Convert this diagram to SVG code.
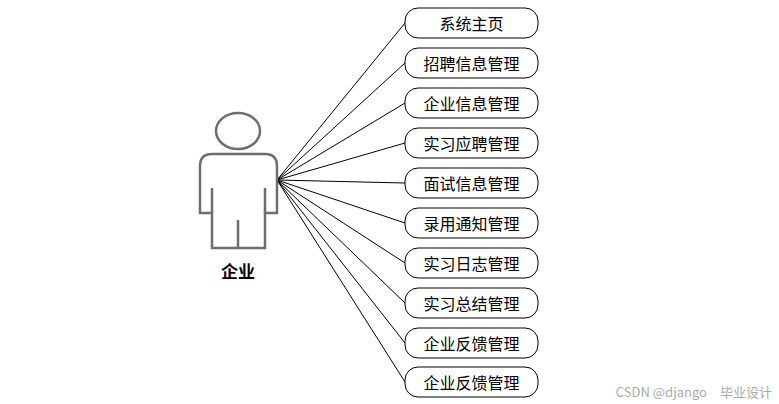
<svg xmlns="http://www.w3.org/2000/svg" width="779" height="404" viewBox="0 0 779 404">
<style>
.b{fill:#fff;stroke:#000;stroke-width:1}
.t{font-family:"Noto Sans CJK SC","Liberation Serif",serif;font-size:16px;text-anchor:middle;dominant-baseline:central;fill:#000}
.a{fill:#fff;stroke:#6e6e6e;stroke-width:2.5}
.c line{stroke:#000;stroke-width:1}
</style>
<rect width="779" height="404" fill="#fff"/>
<g class="c" id="connectors">
<line x1="277" y1="180" x2="405" y2="23"/><line x1="277" y1="180" x2="405" y2="63"/><line x1="277" y1="180" x2="405" y2="103"/><line x1="277" y1="180" x2="405" y2="143"/><line x1="277" y1="180" x2="405" y2="183"/><line x1="277" y1="180" x2="405" y2="223"/><line x1="277" y1="180" x2="405" y2="263"/><line x1="277" y1="180" x2="405" y2="303"/><line x1="277" y1="180" x2="405" y2="343"/><line x1="277" y1="180" x2="405" y2="382"/>
</g>
<g id="actor">
<ellipse class="a" cx="238" cy="131" rx="22" ry="18"/>
<path class="a" d="M200,166 Q200,154 212,154 L265,154 Q277,154 277,166 L277,213 L265,213 L265,248 L212,248 L212,213 L200,213 Z"/>
<path class="a" d="M212,188 V213 M265,188 V213 M238,220 V248" fill="none"/>
<text x="238" y="270" class="t" style="font-weight:bold;font-size:17px">企业</text>
</g>
<g id="n1"><rect class="b" x="405" y="8" width="133" height="30" rx="13"/><text class="t" x="471.5" y="23">系统主页</text></g>
<g id="n2"><rect class="b" x="405" y="48" width="133" height="30" rx="13"/><text class="t" x="471.5" y="63">招聘信息管理</text></g>
<g id="n3"><rect class="b" x="405" y="88" width="133" height="30" rx="13"/><text class="t" x="471.5" y="103">企业信息管理</text></g>
<g id="n4"><rect class="b" x="405" y="128" width="133" height="30" rx="13"/><text class="t" x="471.5" y="143">实习应聘管理</text></g>
<g id="n5"><rect class="b" x="405" y="168" width="133" height="30" rx="13"/><text class="t" x="471.5" y="183">面试信息管理</text></g>
<g id="n6"><rect class="b" x="405" y="208" width="133" height="30" rx="13"/><text class="t" x="471.5" y="223">录用通知管理</text></g>
<g id="n7"><rect class="b" x="405" y="248" width="133" height="30" rx="13"/><text class="t" x="471.5" y="263">实习日志管理</text></g>
<g id="n8"><rect class="b" x="405" y="288" width="133" height="30" rx="13"/><text class="t" x="471.5" y="303">实习总结管理</text></g>
<g id="n9"><rect class="b" x="405" y="328" width="133" height="30" rx="13"/><text class="t" x="471.5" y="343">企业反馈管理</text></g>
<g id="n10"><rect class="b" x="405" y="367" width="133" height="30" rx="13"/><text class="t" x="471.5" y="382">企业反馈管理</text></g>
<text x="772" y="391" style="font-family:'Noto Sans CJK SC',sans-serif;font-size:13px;fill:#aaa;text-anchor:end;dominant-baseline:central">CSDN @django　毕业设计</text>
</svg>
